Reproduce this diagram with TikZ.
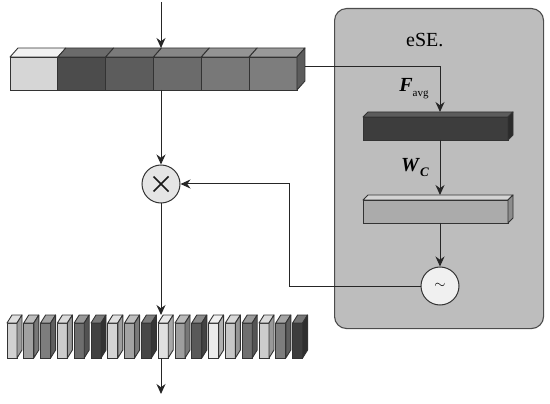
\documentclass[tikz,border=0pt]{standalone}
\usepackage{fontspec}
\setmainfont{Liberation Serif}
\usetikzlibrary{arrows.meta}
% cuboid: name, x, y (front top-left), w, h, dx, dy, front gray, top gray
\newcommand\mycub[9]{%
  \definecolor{cubf}{gray}{#8}%
  \definecolor{cubt}{gray}{#9}%
  \node[face, fill=cubf, minimum width=#4pt, minimum height=#5pt] (#1) at (#2,#3) {};
  \filldraw[fill=cubt, facedraw] (#1.north west) -- ++(#6,#7) -- ++(#4,0) -- (#1.north east) -- cycle;
}
% right face: name, h, dx, dy, gray
\newcommand\mycubside[5]{%
  \definecolor{cubr}{gray}{#5}%
  \filldraw[fill=cubr, facedraw] (#1.north east) -- ++(#3,#4) -- ++(0,#2) -- (#1.south east) -- cycle;
}
\begin{document}
\begin{tikzpicture}[x=1pt,y=-1pt,
  facedraw/.style={draw=black!80, line width=0.9pt, line join=round},
  face/.style={draw=black!80, line width=0.9pt, inner sep=0pt, outer sep=0pt, anchor=north west},
  arr/.style={draw=black!85, line width=1pt, -{Stealth[length=10pt,width=9pt]}},
  op/.style={circle, draw=black!80, line width=1pt, minimum size=38pt, inner sep=0pt},
  lbl/.style={inner sep=0pt}]
\useasboundingbox (0,0) rectangle (550,404);

% eSE box
\node[draw=black!70, fill=black!26, rounded corners=12pt, line width=1.1pt,
      minimum width=209pt, minimum height=320pt, anchor=north west, inner sep=0pt] (ese) at (334,8) {};
\node[lbl, anchor=west, font=\fontsize{20}{21}\selectfont] (eselbl) at (406,40) {eSE.};

% top bar
\mycub{t1}{10}{57}{47.83}{33}{8}{-9}{0.84}{0.95}
\mycub{t2}{57.83}{57}{47.83}{33}{8}{-9}{0.30}{0.42}
\mycub{t3}{105.66}{57}{47.83}{33}{8}{-9}{0.36}{0.48}
\mycub{t4}{153.49}{57}{47.83}{33}{8}{-9}{0.42}{0.53}
\mycub{t5}{201.32}{57}{47.83}{33}{8}{-9}{0.47}{0.58}
\mycub{t6}{249.15}{57}{47.83}{33}{8}{-9}{0.49}{0.60}
\mycubside{t6}{33}{8}{-9}{0.36}

% eSE bars
\mycub{dark}{363}{117}{145}{23}{5}{-5}{0.24}{0.36}
\mycubside{dark}{23}{5}{-5}{0.17}
\mycub{light}{363}{200}{145}{23}{5}{-5}{0.67}{0.83}
\mycubside{light}{23}{5}{-5}{0.55}

% bottom bar
\foreach \g [count=\i] in {0.82,0.63,0.49,0.80,0.43,0.26,0.83,0.64,0.28,0.88,0.62,0.35,0.92,0.78,0.44,0.80,0.49,0.24} {
  \pgfmathsetmacro\xx{7+(\i-1)*16.8}
  \pgfmathsetmacro\tg{\g*0.7+0.3}
  \pgfmathsetmacro\rg{\g*0.75}
  \mycub{b\i}{\xx}{323}{10}{35}{5}{-8}{\g}{\tg}
  \mycubside{b\i}{35}{5}{-8}{\rg}
}

% operators
\node[op, fill=black!10] (mul) at (161,184) {};
\draw[line width=1.5pt, black!90] (mul.center) ++(-7.5,-7.5) -- ++(15,15);
\draw[line width=1.5pt, black!90] (mul.center) ++(-7.5,7.5) -- ++(15,-15);
\node[op, fill=black!6] (sig) at (440,286) {\fontsize{15}{15}\selectfont$\sim$};

% labels
\node[lbl] (favg) at (414,89) {\fontsize{20}{20}\selectfont\textbf{\textit{F}}\raisebox{-5pt}{\fontsize{11}{11}\selectfont avg}};
\node[lbl] (wc) at (415,168) {\fontsize{20}{20}\selectfont\textbf{\textit{W}}\raisebox{-5pt}{\fontsize{13}{13}\selectfont\textbf{\textit{C}}}};

% coordinates
\coordinate (in) at (161,2);
\coordinate (inend) at (161,48);
\coordinate (barout) at (161,90);
\coordinate (bin) at (161,315);
\coordinate (bout) at (161,358);
\coordinate (out) at (161,394);
\coordinate (tr) at (305.15,67);
\coordinate (dtop) at (440,112);
\coordinate (dbot) at (440,140);
\coordinate (ltop) at (440,195);
\coordinate (lbot) at (440,223);
\coordinate (fb) at (289,184);

% connectors
\draw[arr] (in) -- (inend);
\draw[arr] (barout) -- (mul);
\draw[arr] (mul) -- (bin);
\draw[arr] (bout) -- (out);
\draw[arr] (tr) -| (dtop);
\draw[arr] (dbot) -- (ltop);
\draw[arr] (lbot) -- (sig);
\draw[arr] (sig.west) -| (fb) -- (mul.east);
\end{tikzpicture}
\end{document}
